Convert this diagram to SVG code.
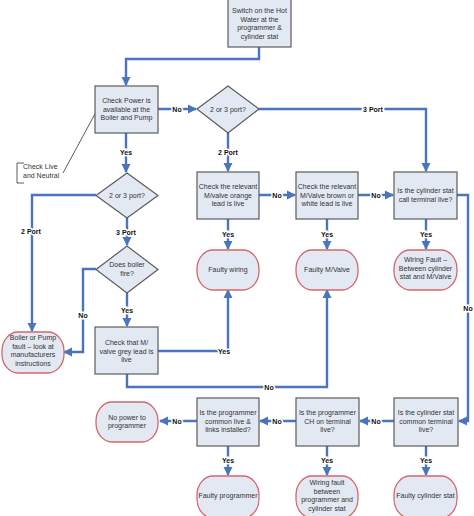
<svg xmlns="http://www.w3.org/2000/svg" width="474" height="516" viewBox="0 0 474 516">
<defs>
<marker id="ah" markerUnits="userSpaceOnUse" markerWidth="10" markerHeight="10" refX="8" refY="5" orient="auto">
<path d="M0,0.5 L9,5 L0,9.5 Z" fill="#4a74bd"/>
</marker>
<style>
.box{fill:#e3e9f3;stroke:#5c5c5c;stroke-width:1.2}
.term{fill:#e3e9f3;stroke:#d4676a;stroke-width:1.3}
.t{font-family:"Liberation Sans",Arial,sans-serif;font-size:7px;fill:#333;text-anchor:middle}
.c{fill:none;stroke:#4a74bd;stroke-width:2.4;marker-end:url(#ah)}
.l{font-family:"Liberation Sans",Arial,sans-serif;font-size:7px;font-weight:bold;fill:#111;text-anchor:middle;stroke:#fff;stroke-width:3;paint-order:stroke}
.a{font-family:"Liberation Sans",Arial,sans-serif;font-size:7px;fill:#333}
</style>
</defs>
<rect width="474" height="516" fill="#fff"/>
<g id="connectors">
<path class="c" d="M259,47 V59 H126 V85"/>
<path class="c" d="M158,109 H196"/>
<path class="c" d="M259,109 H426 V171"/>
<path class="c" d="M228,133 V171"/>
<path class="c" d="M126,133 V172"/>
<path class="c" d="M96,195 H32 V331"/>
<path class="c" d="M127,218 V245"/>
<path class="c" d="M96,269 H83 V352 H64"/>
<path class="c" d="M127,293 V326"/>
<path class="c" d="M158,351 H228 V290"/>
<path class="c" d="M127,374 V387 H327 V290"/>
<path class="c" d="M259,195 H295"/>
<path class="c" d="M358,195 H393"/>
<path class="c" d="M457,195 H468 V421 H459"/>
<path class="c" d="M228,219 V249"/>
<path class="c" d="M327,219 V249"/>
<path class="c" d="M426,219 V249"/>
<path class="c" d="M394,421 H360"/>
<path class="c" d="M296,421 H260"/>
<path class="c" d="M197,421 H160"/>
<path class="c" d="M228,446 V475"/>
<path class="c" d="M327,446 V475"/>
<path class="c" d="M426,446 V475"/>
<line x1="96" y1="112" x2="63" y2="173" stroke="#333" stroke-width="0.8"/>
<path d="M24,163 H17 V183 H24" fill="none" stroke="#333" stroke-width="0.8"/>
<text class="l" x="177" y="112">No</text>
<text class="l" x="373" y="112">3 Port</text>
<text class="l" x="228" y="155">2 Port</text>
<text class="l" x="126" y="155">Yes</text>
<text class="l" x="31" y="234">2 Port</text>
<text class="l" x="126" y="235">3 Port</text>
<text class="l" x="83" y="318">No</text>
<text class="l" x="127" y="313">Yes</text>
<text class="l" x="224" y="354">Yes</text>
<text class="l" x="269" y="390">No</text>
<text class="l" x="277" y="198">No</text>
<text class="l" x="376" y="198">No</text>
<text class="l" x="468" y="311">No</text>
<text class="l" x="228" y="237">Yes</text>
<text class="l" x="327" y="237">Yes</text>
<text class="l" x="426" y="237">Yes</text>
<text class="l" x="376" y="424">No</text>
<text class="l" x="277" y="424">No</text>
<text class="l" x="177" y="424">No</text>
<text class="l" x="228" y="463">Yes</text>
<text class="l" x="327" y="463">Yes</text>
<text class="l" x="426" y="463">Yes</text>
<text class="a" x="23" y="169">Check Live</text>
<text class="a" x="23" y="178">and Neutral</text>
</g>
<g id="start"><rect class="box" x="228" y="-1" width="63" height="48"/>
<text class="t" x="259.5" y="13">Switch on the Hot</text><text class="t" x="259.5" y="21.5">Water at  the</text><text class="t" x="259.5" y="30">programmer &amp;</text><text class="t" x="259.5" y="38.5">cylinder stat</text></g>
<g id="checkPower"><rect class="box" x="95" y="86" width="63" height="47"/>
<text class="t" x="126.5" y="103">Check Power is</text><text class="t" x="126.5" y="111.5">available at the</text><text class="t" x="126.5" y="120">Boiler and Pump</text></g>
<g id="port1"><polygon class="box" points="197,109 228,86 259,109 228,133"/>
<text class="t" x="228" y="112">2 or 3 port?</text></g>
<g id="port2"><polygon class="box" points="96,195.5 127,173 158,195.5 127,218"/>
<text class="t" x="127" y="198">2 or 3 port?</text></g>
<g id="boilerFire"><polygon class="box" points="96,269.5 127,246 158,269.5 127,293"/>
<text class="t" x="127" y="267">Does boiler</text><text class="t" x="127" y="275.5">fire?</text></g>
<g id="greyLead"><rect class="box" x="95" y="327" width="63" height="47"/>
<text class="t" x="126.5" y="345">Check that M/</text><text class="t" x="126.5" y="353.5">valve grey lead is</text><text class="t" x="126.5" y="362">live</text></g>
<g id="boilerFault"><rect class="term" x="2" y="332" width="62" height="41" rx="16" ry="19"/>
<text class="t" x="33" y="340">Boiler or Pump</text><text class="t" x="33" y="348.5">fault – look at</text><text class="t" x="33" y="357">manufacturers</text><text class="t" x="33" y="365.5">instructions</text></g>
<g id="orange"><rect class="box" x="197" y="172" width="62" height="47"/>
<text class="t" x="228" y="189">Check the relevant</text><text class="t" x="228" y="197.5">M/valve orange</text><text class="t" x="228" y="206">lead is live</text></g>
<g id="brown"><rect class="box" x="296" y="172" width="62" height="47"/>
<text class="t" x="327" y="189">Check the relevant</text><text class="t" x="327" y="197.5">M/Valve brown or</text><text class="t" x="327" y="206">white lead is live</text></g>
<g id="callTerminal"><rect class="box" x="394" y="172" width="63" height="47"/>
<text class="t" x="425.5" y="193">Is the cylinder stat</text><text class="t" x="425.5" y="201.5">call terminal live?</text></g>
<g id="faultyWiring"><rect class="term" x="197" y="250" width="62" height="40" rx="16" ry="19"/>
<text class="t" x="228" y="272">Faulty wiring</text></g>
<g id="faultyValve"><rect class="term" x="296" y="250" width="62" height="40" rx="16" ry="19"/>
<text class="t" x="327" y="272">Faulty M/Valve</text></g>
<g id="wiringFault1"><rect class="term" x="394" y="250" width="63" height="40" rx="16" ry="19"/>
<text class="t" x="425.5" y="262">Wiring Fault –</text><text class="t" x="425.5" y="270.5">Between cylinder</text><text class="t" x="425.5" y="279">stat and M/Valve</text></g>
<g id="commonTerminal"><rect class="box" x="394" y="398" width="64" height="48"/>
<text class="t" x="426" y="415">Is the cylinder stat</text><text class="t" x="426" y="423.5">common terminal</text><text class="t" x="426" y="432">live?</text></g>
<g id="chTerminal"><rect class="box" x="296" y="398" width="63" height="48"/>
<text class="t" x="327.5" y="415">Is the programmer</text><text class="t" x="327.5" y="423.5">CH on terminal</text><text class="t" x="327.5" y="432">live?</text></g>
<g id="progCommon"><rect class="box" x="197" y="398" width="62" height="48"/>
<text class="t" x="228" y="415">Is the programmer</text><text class="t" x="228" y="423.5">common live &amp;</text><text class="t" x="228" y="432">links installed?</text></g>
<g id="noPower"><rect class="term" x="96" y="402" width="62" height="40" rx="16" ry="19"/>
<text class="t" x="127" y="419.5">No power to</text><text class="t" x="127" y="428">programmer</text></g>
<g id="faultyProg"><rect class="term" x="197" y="476" width="62" height="42" rx="16" ry="19"/>
<text class="t" x="228" y="498">Faulty programmer</text></g>
<g id="wiringFault2"><rect class="term" x="296" y="476" width="62" height="42" rx="16" ry="19"/>
<text class="t" x="327" y="485">Wiring fault</text><text class="t" x="327" y="493.5">between</text><text class="t" x="327" y="502">programmer and</text><text class="t" x="327" y="510.5">cylinder stat</text></g>
<g id="faultyStat"><rect class="term" x="394" y="476" width="63" height="42" rx="16" ry="19"/>
<text class="t" x="425.5" y="498">Faulty cylinder stat</text></g>
</svg>
